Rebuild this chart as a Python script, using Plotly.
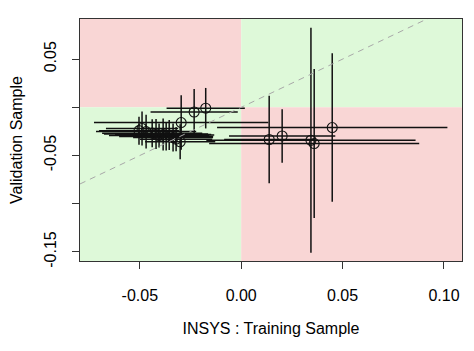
import plotly.graph_objects as go

# Training (x) and validation (y) estimates with half-widths of intervals
x_vals = [0.0138, 0.0202, 0.0344, 0.0360, 0.0449,
          -0.0175, -0.0232, -0.0296,
          -0.0489, -0.0504, -0.0469, -0.0439, -0.0420, -0.0405, -0.0385,
          -0.0370, -0.0355, -0.0336, -0.0321, -0.0301]
y_vals = [-0.0334, -0.0297, -0.0342, -0.0376, -0.0210,
          -0.0009, -0.0049, -0.0158,
          -0.0220, -0.0242, -0.0252, -0.0268, -0.0277, -0.0293, -0.0282,
          -0.0303, -0.0288, -0.0314, -0.0330, -0.0357]
x_err = [0.0222, 0.0262, 0.0516, 0.0518, 0.0568,
         0.0193, 0.0215, 0.0430,
         0.0178, 0.0197, 0.0247, 0.0247, 0.0257, 0.0247, 0.0237,
         0.0232, 0.0222, 0.0197, 0.0178, 0.0173]
y_err = [0.0453, 0.0277, 0.1167, 0.0773, 0.0770,
         0.0210, 0.0239, 0.0283,
         0.0176, 0.0145, 0.0176, 0.0145, 0.0156, 0.0125, 0.0166,
         0.0145, 0.0156, 0.0145, 0.0125, 0.0182]

x_range = [-0.0795, 0.1089]
y_range = [-0.1594, 0.0916]
x_ticks = [-0.05, 0.0, 0.05, 0.10]
x_ticktext = ["-0.05", "0.00", "0.05", "0.10"]
y_ticks = [0.05, 0.0, -0.05, -0.10, -0.15]
y_ticktext = ["0.05", "", "-0.05", "", "-0.15"]

RED = "#F9D6D5"
GREEN = "#DEF9D9"

fig = go.Figure()

fig.add_trace(go.Scatter(
    x=x_vals, y=y_vals, mode="markers",
    marker=dict(symbol="circle-open", size=10, color="#111111", line=dict(width=1.1)),
    error_x=dict(type="data", array=x_err, visible=True, color="#111111", thickness=1.5, width=0),
    error_y=dict(type="data", array=y_err, visible=True, color="#111111", thickness=1.5, width=0),
    showlegend=False, hoverinfo="skip"))

# y = x reference line
fig.add_trace(go.Scatter(
    x=[x_range[0], x_range[1]], y=[x_range[0], x_range[1]], mode="lines",
    line=dict(color="#A8A8A8", width=1, dash="6px,5px"), showlegend=False, hoverinfo="skip"))

shapes = [
    dict(type="rect", xref="x", yref="y", x0=x_range[0], x1=0, y0=0, y1=y_range[1], fillcolor=RED, line_width=0, layer="below"),
    dict(type="rect", xref="x", yref="y", x0=0, x1=x_range[1], y0=0, y1=y_range[1], fillcolor=GREEN, line_width=0, layer="below"),
    dict(type="rect", xref="x", yref="y", x0=x_range[0], x1=0, y0=y_range[0], y1=0, fillcolor=GREEN, line_width=0, layer="below"),
    dict(type="rect", xref="x", yref="y", x0=0, x1=x_range[1], y0=y_range[0], y1=0, fillcolor=RED, line_width=0, layer="below"),
]

fig.update_layout(
    width=474, height=351,
    margin=dict(l=80, r=12, t=19, b=90),
    paper_bgcolor="white", plot_bgcolor="white",
    font=dict(family="Liberation Sans, Arial, sans-serif", size=16, color="black"),
    shapes=shapes,
    xaxis=dict(range=x_range, tickvals=x_ticks, ticktext=x_ticktext,
               showgrid=False, zeroline=False, showline=True, mirror=True,
               linecolor="#333333", linewidth=1, ticks="outside", ticklen=7,
               tickcolor="#333333", ticklabelstandoff=13,
               title=dict(text="INSYS : Training Sample", standoff=19, font=dict(size=16))),
    yaxis=dict(range=y_range, tickvals=y_ticks, ticktext=y_ticktext,
               showgrid=False, zeroline=False, showline=True, mirror=True,
               linecolor="#333333", linewidth=1, ticks="outside", ticklen=7,
               tickcolor="#333333", tickangle=-90, ticklabelstandoff=10,
               title=dict(text="Validation Sample", standoff=14, font=dict(size=16))),
)

fig.write_html("out.html")
